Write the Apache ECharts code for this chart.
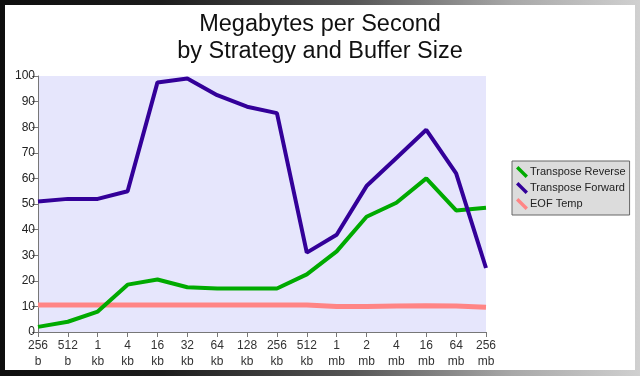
<!DOCTYPE html>
<html>
<head>
<meta charset="utf-8">
<script src="https://cdn.jsdelivr.net/npm/echarts@6/dist/echarts.min.js"></script>
<style>
html,body{margin:0;padding:0;width:640px;height:376px;overflow:hidden;
background:linear-gradient(to right,#0e0e0e 0%,#1c1c1c 25%,#555 55%,#a8a8a8 80%,#d0d0d0 100%);}
#c{position:absolute;left:5px;top:5px;width:630px;height:365px;background:#fff;}
</style>
</head>
<body>
<div id="c"></div>
<script>
const categories = ['256\nb','512\nb','1\nkb','4\nkb','16\nkb','32\nkb','64\nkb','128\nkb','256\nkb','512\nkb','1\nmb','2\nmb','4\nmb','16\nmb','64\nmb','256\nmb'];
const transposeReverse = [2, 4, 8, 18.5, 20.5, 17.5, 17, 17, 17, 22.5, 31.5, 45, 50.5, 60, 47.5, 48.5];
const transposeForward = [51, 52, 52, 55, 97.5, 99, 92.5, 88, 85.5, 31, 38, 57, 68, 79, 62, 25];
const eofTemp = [10.5, 10.5, 10.5, 10.5, 10.5, 10.5, 10.5, 10.5, 10.5, 10.5, 10, 10, 10.2, 10.3, 10.2, 9.7];
const seriesNames = ['Transpose Reverse', 'Transpose Forward', 'EOF Temp'];
const colors = ['#00aa00', '#330099', '#ff8585'];

const icon = 'path://M2,0 L10,8 L8,10 L0,2 Z';
const chart = echarts.init(document.getElementById('c'));
chart.setOption({
  animation: false,
  title: {
    text: 'Megabytes per Second\nby Strategy and Buffer Size',
    left: 'center', top: 1,
    textStyle: {fontFamily: 'Liberation Sans', fontSize: 23.5, fontWeight: 'normal', color: '#111', lineHeight: 27}
  },
  legend: {
    orient: 'vertical', left: 507, top: 156,
    backgroundColor: '#dcdcdc', borderColor: '#666', borderWidth: 1,
    padding: [5, 4, 5, 4], itemGap: 4, itemWidth: 12, itemHeight: 12,
    textStyle: {fontFamily: 'Liberation Sans', fontSize: 11, color: '#222', padding: [0, 0, 0, -3]},
    data: seriesNames.map((n, i) => ({name: n, icon: icon, itemStyle: {color: colors[i]}}))
  },
  grid: {left: 33, right: 149, top: 71, bottom: 38, show: true, backgroundColor: '#e6e6fc', borderWidth: 0},
  xAxis: {
    type: 'category', data: categories, boundaryGap: false,
    axisLine: {lineStyle: {color: '#777', width: 1}},
    axisTick: {show: true, length: 5, lineStyle: {color: '#777'}},
    axisLabel: {fontFamily: 'Liberation Sans', fontSize: 12, color: '#333', lineHeight: 16, margin: 6, interval: 0}
  },
  yAxis: {
    type: 'value', min: 0, max: 100, interval: 10,
    splitLine: {show: false},
    axisLine: {show: true, lineStyle: {color: '#777', width: 1}},
    axisTick: {show: true, length: 6, lineStyle: {color: '#777'}},
    axisLabel: {fontFamily: 'Liberation Sans', fontSize: 12, color: '#222', margin: 3}
  },
  series: [
    {name: seriesNames[0], type: 'line', data: transposeReverse, showSymbol: false, symbol: 'none', z: 3,
     lineStyle: {color: colors[0], width: 4}, itemStyle: {color: colors[0]}},
    {name: seriesNames[1], type: 'line', data: transposeForward, showSymbol: false, symbol: 'none', z: 4,
     lineStyle: {color: colors[1], width: 4}, itemStyle: {color: colors[1]}},
    {name: seriesNames[2], type: 'line', data: eofTemp, showSymbol: false, symbol: 'none', z: 2,
     lineStyle: {color: colors[2], width: 5}, itemStyle: {color: colors[2]}}
  ]
});
</script>
</body>
</html>
